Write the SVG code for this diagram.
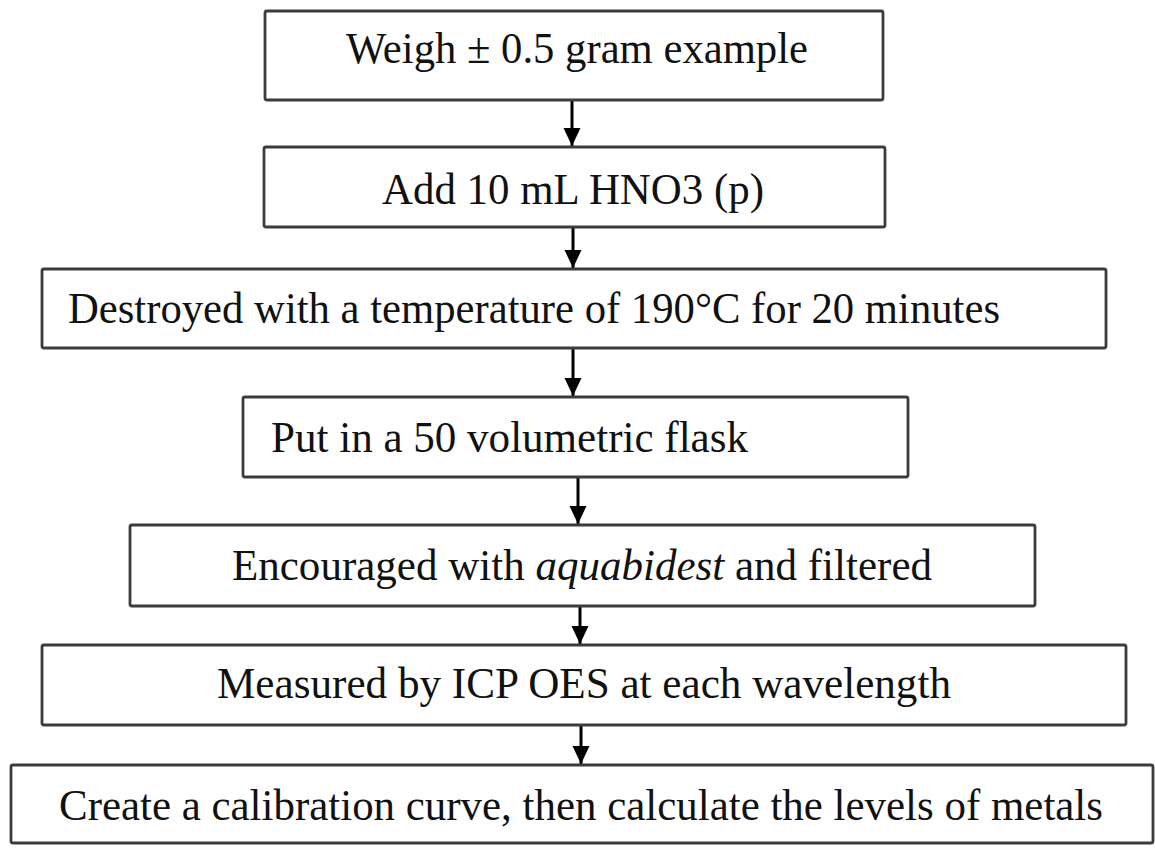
<svg xmlns="http://www.w3.org/2000/svg" width="1155" height="856" viewBox="0 0 1155 856">
<style>
.box{fill:#fff;stroke:#3c3c3c;stroke-width:2.8}
.t{font-family:"Liberation Serif","Times New Roman",serif;font-size:44px;fill:#111}
.c{stroke:#000;stroke-width:3;fill:none}
</style>
<defs>
<marker id="arr" viewBox="0 0 18 18" refX="18" refY="9" markerWidth="18" markerHeight="18" orient="auto" markerUnits="userSpaceOnUse">
<path d="M0,0.5 L18,9 L0,17.5 Z" fill="#000"/>
</marker>
</defs>
<rect width="1155" height="856" fill="#fff"/>
<g id="connectors">
<line class="c" x1="572" y1="101" x2="572" y2="146" marker-end="url(#arr)"/>
<line class="c" x1="573" y1="228" x2="573" y2="268" marker-end="url(#arr)"/>
<line class="c" x1="573" y1="349" x2="573" y2="396" marker-end="url(#arr)"/>
<line class="c" x1="578" y1="478" x2="578" y2="524" marker-end="url(#arr)"/>
<line class="c" x1="580" y1="607" x2="580" y2="644" marker-end="url(#arr)"/>
<line class="c" x1="581" y1="726" x2="581" y2="764" marker-end="url(#arr)"/>
</g>
<g id="n1"><rect class="box" x="265" y="11" width="618" height="89" rx="2"/>
<text class="t" x="346" y="63" textLength="462" lengthAdjust="spacingAndGlyphs">Weigh ± 0.5 gram example</text></g>
<g id="n2"><rect class="box" x="264" y="147" width="621" height="80" rx="2"/>
<text class="t" x="382" y="204" textLength="382" lengthAdjust="spacingAndGlyphs">Add 10 mL HNO3 (p)</text></g>
<g id="n3"><rect class="box" x="42" y="269" width="1064" height="79" rx="2"/>
<text class="t" x="68" y="323" textLength="932" lengthAdjust="spacingAndGlyphs">Destroyed with a temperature of 190°C for 20 minutes</text></g>
<g id="n4"><rect class="box" x="243" y="397" width="665" height="80" rx="2"/>
<text class="t" x="271" y="452" textLength="477" lengthAdjust="spacingAndGlyphs">Put in a 50 volumetric flask</text></g>
<g id="n5"><rect class="box" x="130" y="525" width="905" height="81" rx="2"/>
<text class="t" x="232" y="580" textLength="700" lengthAdjust="spacingAndGlyphs">Encouraged with <tspan font-style="italic">aquabidest</tspan> and filtered</text></g>
<g id="n6"><rect class="box" x="42" y="645" width="1084" height="80" rx="2"/>
<text class="t" x="217" y="698" textLength="734" lengthAdjust="spacingAndGlyphs">Measured by ICP OES at each wavelength</text></g>
<g id="n7"><rect class="box" x="11" y="765" width="1142" height="78" rx="2"/>
<text class="t" x="59" y="820" textLength="1044" lengthAdjust="spacingAndGlyphs">Create a calibration curve, then calculate the levels of metals</text></g>
</svg>
